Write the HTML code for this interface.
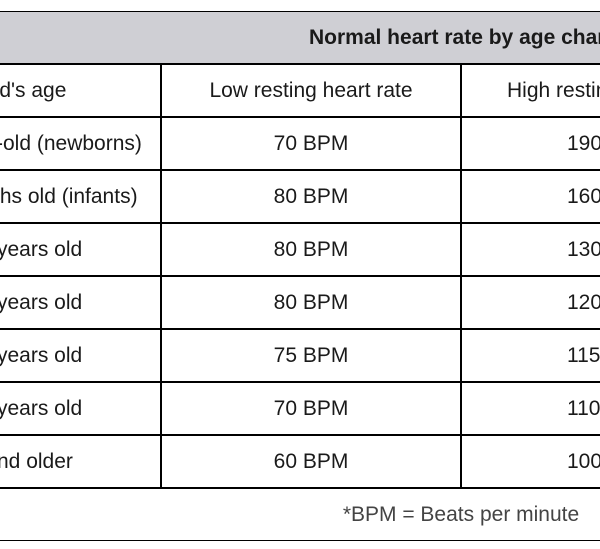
<!DOCTYPE html>
<html><head><meta charset="utf-8"><style>
html,body{margin:0;padding:0;background:#fff;}
#c{position:relative;width:600px;height:549px;overflow:hidden;font-family:"Liberation Sans",Arial,sans-serif;color:#1a1a1a;font-size:21px;}
.h{position:absolute;left:0;width:600px;height:2px;background:#000;}
.v{position:absolute;width:2px;background:#000;}
.t{position:absolute;white-space:nowrap;line-height:22px;}
.cc{transform:translateX(-50%);}
</style></head><body><div id="c">
<div style="position:absolute;left:0;top:12px;width:600px;height:51px;background:#cfcfd4"></div>
<div class="h" style="top:11px;height:1px"></div>
<div class="h" style="top:63px"></div>
<div class="h" style="top:116px"></div>
<div class="h" style="top:169px"></div>
<div class="h" style="top:222px"></div>
<div class="h" style="top:275px"></div>
<div class="h" style="top:328px"></div>
<div class="h" style="top:381px"></div>
<div class="h" style="top:434px"></div>
<div class="h" style="top:487px"></div>
<div class="h" style="top:540px;height:1px"></div>
<div class="v" style="left:160px;top:63px;height:426px"></div>
<div class="v" style="left:460px;top:63px;height:426px"></div>
<div class="t" style="left:309px;top:27px;font-weight:bold;">Normal heart rate by age chart</div>
<div class="t" style="left:-10px;top:80px">ild's age</div>
<div class="t cc" style="left:311px;top:80px">Low resting heart rate</div>
<div class="t" style="left:507px;top:80px">High resting heart rate</div>
<div class="t" style="left:-4px;top:133px">-old (newborns)</div>
<div class="t" style="left:-6px;top:186px">ths old (infants)</div>
<div class="t" style="left:-3px;top:239px">years old</div>
<div class="t" style="left:-3px;top:292px">years old</div>
<div class="t" style="left:-3px;top:345px">years old</div>
<div class="t" style="left:-3px;top:398px">years old</div>
<div class="t" style="left:-3px;top:451px">nd older</div>
<div class="t cc" style="left:311px;top:133px">70 BPM</div>
<div class="t cc" style="left:311px;top:186px">80 BPM</div>
<div class="t cc" style="left:311px;top:239px">80 BPM</div>
<div class="t cc" style="left:311px;top:292px">80 BPM</div>
<div class="t cc" style="left:311px;top:345px">75 BPM</div>
<div class="t cc" style="left:311px;top:398px">70 BPM</div>
<div class="t cc" style="left:311px;top:451px">60 BPM</div>
<div class="t" style="left:567px;top:133px">190 BPM</div>
<div class="t" style="left:567px;top:186px">160 BPM</div>
<div class="t" style="left:567px;top:239px">130 BPM</div>
<div class="t" style="left:567px;top:292px">120 BPM</div>
<div class="t" style="left:567px;top:345px">115 BPM</div>
<div class="t" style="left:567px;top:398px">110 BPM</div>
<div class="t" style="left:567px;top:451px">100 BPM</div>
<div class="t cc" style="left:461px;top:504px;color:#444">*BPM = Beats per minute</div>
</div></body></html>
